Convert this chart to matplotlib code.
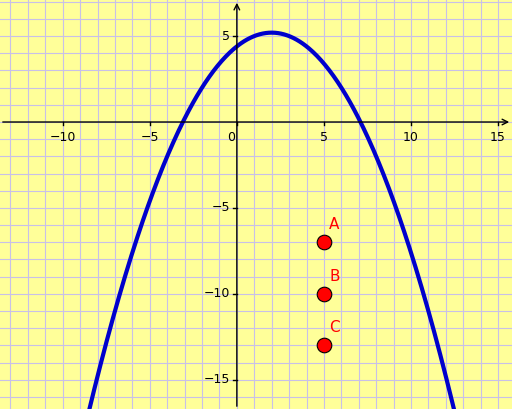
import numpy as np
import matplotlib.pyplot as plt

a, h, k = -0.2, 2.0, 5.2
pts_x = [5, 5, 5]
pts_y = [-7, -10, -13]
pts_lab = ['A', 'B', 'C']
xticks = [-10, -5, 0, 5, 10, 15]
yticks = [-15, -10, -5, 5]

fig = plt.figure(figsize=(5.12, 4.09), dpi=100)
ax = fig.add_axes([0, 0, 1, 1])
ax.set_facecolor('#ffff99')
xmin, xmax, ymin, ymax = -13.6, 15.8, -16.7, 7.1
ax.set_xlim(xmin, xmax); ax.set_ylim(ymin, ymax)
for gx in range(-13, 16):
    ax.axvline(gx, color='#c8c0e8', lw=0.8, zorder=0)
for gy in range(-16, 8):
    ax.axhline(gy, color='#c8c0e8', lw=0.8, zorder=0)
for s in ax.spines.values(): s.set_visible(False)
ax.set_xticks([]); ax.set_yticks([])
ax.annotate('', xy=(xmax, 0), xytext=(xmin, 0), arrowprops=dict(arrowstyle='->', color='black', lw=1))
ax.annotate('', xy=(0, ymax), xytext=(0, ymin), arrowprops=dict(arrowstyle='->', color='black', lw=1))
for t in xticks:
    ax.plot([t, t], [0, -0.2], color='black', lw=1)
    ax.text(t - (0.3 if t == 0 else 0), -0.5, f'{t}'.replace('-', '\u2212'), ha='center', va='top', fontsize=9)
for t in yticks:
    ax.plot([0, -0.2], [t, t], color='black', lw=1)
    ax.text(-0.4, t, f'{t}'.replace('-', '\u2212'), ha='right', va='center', fontsize=9)
x = np.linspace(xmin, xmax, 500)
ax.plot(x, a * (x - h) ** 2 + k, color='#0000cc', lw=3)
ax.scatter(pts_x, pts_y, s=110, color='red', edgecolor='black', linewidth=0.8, zorder=5)
for px, py, l in zip(pts_x, pts_y, pts_lab):
    ax.text(px + 0.3, py + 0.6, l, color='red', fontsize=11, ha='left', va='bottom')
fig.savefig('out.png', dpi=100)
